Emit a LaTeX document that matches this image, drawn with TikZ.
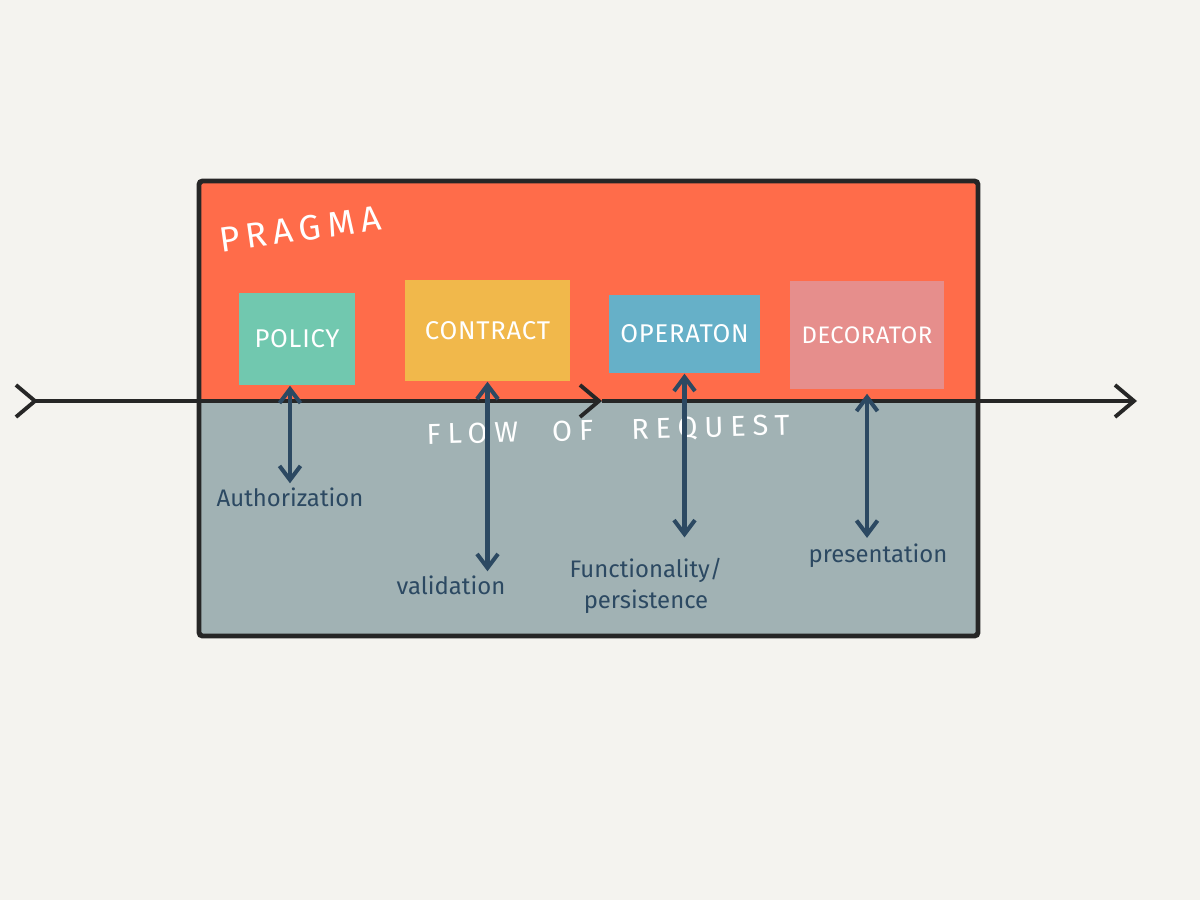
\documentclass[tikz,border=0pt]{standalone}
\usepackage{fontspec}
\setmainfont{Fira Sans}
\usetikzlibrary{arrows.meta,positioning}
\definecolor{bgPaper}{RGB}{244,243,239}
\definecolor{pragmaRed}{RGB}{255,108,74}
\definecolor{flowGrey}{RGB}{161,178,180}
\definecolor{edgeDark}{RGB}{38,38,38}
\definecolor{inkBlue}{RGB}{44,73,98}
\definecolor{policyGreen}{RGB}{113,200,175}
\definecolor{contractYellow}{RGB}{241,184,75}
\definecolor{operationBlue}{RGB}{102,176,200}
\definecolor{decoratorPink}{RGB}{230,142,140}

\begin{document}
\begin{tikzpicture}[x=0.01cm, y=-0.01cm, >={Straight Barb[length=1.4mm,width=2.1mm]},
    stage/.style={inner sep=0pt, text=white,
      font=\fontsize{7.3}{9}\selectfont\addfontfeature{LetterSpace=3}},
    note/.style={inner sep=1pt, text=inkBlue, align=center,
      font=\fontsize{6.8}{8.6}\selectfont},
    link/.style={<->, inkBlue, line width=1.15pt},
    flowline/.style={edgeDark, line width=1.1pt}]
    % --- paper ---
    \fill[bgPaper] (0,0) rectangle (1200,900);
    % --- pragma box ---
    \fill[pragmaRed] (199,181) rectangle (978,401);
    \fill[flowGrey] (199,401) rectangle (978,636);
    \draw[edgeDark, line width=1.4pt, rounded corners=1pt] (199,181) rectangle (978,636);
    \node[text=white, rotate=8, inner sep=0pt,
      font=\fontsize{10}{12}\selectfont\addfontfeature{LetterSpace=18}] (pragma) at (300,229) {PRAGMA};
    % --- stages ---
    \node[stage, fill=policyGreen, minimum width=1.16cm, minimum height=0.92cm] (policy) at (297,339) {POLICY};
    \node[stage, fill=contractYellow, minimum width=1.65cm, minimum height=1.01cm] (contract) at (487.5,330.5) {CONTRACT};
    \node[stage, fill=operationBlue, minimum width=1.51cm, minimum height=0.78cm] (operation) at (684.5,334) {OPERATON};
    \node[stage, fill=decoratorPink, minimum width=1.54cm, minimum height=1.08cm,
      font=\fontsize{6.8}{9}\selectfont\addfontfeature{LetterSpace=2}] (decorator) at (867,335) {DECORATOR};
    % --- flow line ---
    \coordinate (flowL) at (14,401);
    \coordinate (flowM) at (602,401);
    \coordinate (flowR) at (1137,401);
    \draw[flowline, {Straight Barb[reversed,length=1.9mm,width=3.2mm]}-{Straight Barb[length=1.9mm,width=3.2mm]}] (flowL) -- (flowM);
    \draw[flowline, -{Straight Barb[length=1.9mm,width=3.2mm]}] (flowM) -- (flowR);
    \node[text=white, rotate=1.5, inner sep=0pt,
      font=\fontsize{8.2}{10}\selectfont\addfontfeature{LetterSpace=24}] (flow) at (608,431)
      {FLOW\hspace{0.34cm}OF\hspace{0.38cm}REQUEST};
    % --- concerns ---
    \node[note] (authz) at (290,497) {Authorization};
    \node[note] (valid) at (451,585) {validation};
    \node[note] (func) at (646,586) {Functionality/\\persistence};
    \node[note] (present) at (878,556) {presentation};
    \draw[link] (authz.north |- policy.south) -- (authz.north);
    \draw[link] (contract.south) -- (contract.south |- valid.north);
    \draw[link, shorten >=0.17cm] (operation.south) -- (operation.south |- func.north);
    \draw[link, shorten <=0.04cm, shorten >=0.02cm] (decorator.south) -- (decorator.south |- present.north);
\end{tikzpicture}
\end{document}
